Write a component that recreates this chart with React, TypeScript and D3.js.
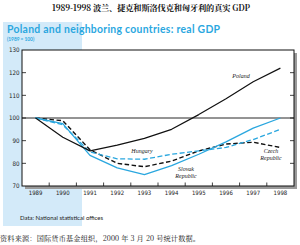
import React, { useEffect, useRef } from 'react';
import * as d3 from 'd3';

// Real GDP index, 1989 = 100
const years = ['1989', '1990', '1991', '1992', '1993', '1994', '1995', '1996', '1997', '1998'];
const poland = [100, 91.5, 85.5, 88, 91, 95, 101.5, 108.5, 116, 122];
const hungary = [100, 97, 85, 82, 81.8, 84, 85.5, 87, 90.5, 95];
const czech = [100, 98.8, 86, 80, 78.5, 81, 85.5, 88.5, 89.3, 87];
const slovak = [100, 97.5, 83.5, 78, 75, 79, 84, 89.5, 95.5, 100];
const yTicks = [70, 80, 90, 100, 110, 120, 130];

const titleCn = '1989-1998 波兰、捷克和斯洛伐克和匈牙利的真实 GDP';
const sourceCn = '资料来源：国际货币基金组织，2000 年 3 月 20 号统计数据。';

const BLUE = '#2aa7df';

export default function App() {
  const ref = useRef<SVGSVGElement>(null);

  useEffect(() => {
    if (!ref.current) return;
    const svg = d3.select(ref.current);
    svg.selectAll('*').remove();

    const left = 22, right = 294, top = 50, bottom = 186;

    // left-hand tinted panel behind the header and axis labels
    svg.append('rect')
      .attr('x', 3).attr('y', 22).attr('width', 79).attr('height', 204)
      .attr('fill', '#d3eaf9');

    svg.append('text')
      .attr('x', 151).attr('y', 11)
      .attr('text-anchor', 'middle')
      .attr('textLength', 198)
      .style('font-family', '"Noto Serif CJK SC", "Noto Sans CJK SC", serif')
      .style('font-size', '8.2px')
      .style('font-weight', 'bold')
      .attr('fill', '#111')
      .text(titleCn);

    svg.append('text')
      .attr('x', 7).attr('y', 33)
      .attr('textLength', 213)
      .style('font-family', 'Lato, "Open Sans", sans-serif')
      .style('font-size', '10.4px')
      .style('font-weight', 'bold')
      .attr('fill', BLUE)
      .text('Poland and neighboring countries: real GDP');

    svg.append('text')
      .attr('x', 7).attr('y', 40.5)
      .style('font-family', 'Lato, sans-serif')
      .style('font-size', '4.8px')
      .style('font-weight', 'bold')
      .attr('fill', BLUE)
      .text('(1989 = 100)');

    const x = d3.scaleBand().domain(years).range([left, right]);
    const y = d3.scaleLinear().domain([70, 130]).range([bottom, top]);
    const cx = (d: string) => (x(d) as number) + x.bandwidth() / 2;

    // drop shadow and plot frame
    svg.append('rect')
      .attr('x', left + 3).attr('y', top + 3)
      .attr('width', right - left).attr('height', bottom - top)
      .attr('fill', '#9a9a9a');
    svg.append('rect')
      .attr('x', left).attr('y', top)
      .attr('width', right - left).attr('height', bottom - top)
      .attr('fill', '#fff').attr('stroke', '#111').attr('stroke-width', 1);

    // 100 baseline
    svg.append('line')
      .attr('x1', left).attr('x2', right)
      .attr('y1', y(100)).attr('y2', y(100))
      .attr('stroke', '#111').attr('stroke-width', 0.9);

    const tickFont = 'Liberation Sans Narrow, "DejaVu Sans Condensed", sans-serif';

    // y ticks on both sides, pointing inward
    yTicks.forEach(t => {
      if (t !== 70 && t !== 130) {
        svg.append('line').attr('x1', left).attr('x2', left + 4)
          .attr('y1', y(t)).attr('y2', y(t)).attr('stroke', '#111').attr('stroke-width', 0.8);
        svg.append('line').attr('x1', right - 4).attr('x2', right)
          .attr('y1', y(t)).attr('y2', y(t)).attr('stroke', '#111').attr('stroke-width', 0.8);
      }
      svg.append('text')
        .attr('x', 19.5).attr('y', y(t) + 2.2)
        .attr('text-anchor', 'end')
        .style('font-family', tickFont)
        .style('font-size', '6.2px')
        .attr('fill', '#222')
        .text(t);
    });

    // x ticks sit on the year boundaries, labels centred in each band
    years.slice(1).forEach(yr => {
      const xx = x(yr) as number;
      svg.append('line').attr('x1', xx).attr('x2', xx)
        .attr('y1', bottom).attr('y2', bottom - 3.5)
        .attr('stroke', '#111').attr('stroke-width', 0.8);
    });
    years.forEach(yr => {
      svg.append('text')
        .attr('x', cx(yr)).attr('y', 195)
        .attr('text-anchor', 'middle')
        .style('font-family', tickFont)
        .style('font-size', '6px')
        .attr('fill', '#222')
        .text(yr);
    });

    const line = d3.line<number>()
      .x((_, i) => cx(years[i]))
      .y(d => y(d));

    const series = [
      { data: czech, color: '#111', dash: '4.5,2.5', w: 1.4 },
      { data: hungary, color: BLUE, dash: '5,2.5', w: 1.3 },
      { data: slovak, color: BLUE, dash: null, w: 1.3 },
      { data: poland, color: '#111', dash: null, w: 1.2 },
    ];
    series.forEach(s => {
      svg.append('path')
        .datum(s.data)
        .attr('d', line)
        .attr('fill', 'none')
        .attr('stroke', s.color)
        .attr('stroke-width', s.w)
        .attr('stroke-dasharray', s.dash ?? null)
        .attr('stroke-linejoin', 'round');
    });

    const labels = [
      { text: ['Poland'], x: 241, y: 78 },
      { text: ['Hungary'], x: 142, y: 153 },
      { text: ['Slovak', 'Republic'], x: 186, y: 171 },
      { text: ['Czech', 'Republic'], x: 271, y: 153 },
    ];
    labels.forEach(l => {
      l.text.forEach((t, i) => {
        svg.append('text')
          .attr('x', l.x).attr('y', l.y + i * 7)
          .attr('text-anchor', 'middle')
          .style('font-family', '"Liberation Serif", serif')
          .style('font-style', 'italic')
          .style('font-size', '6px')
          .attr('fill', '#222')
          .text(t);
      });
    });

    svg.append('text')
      .attr('x', 20).attr('y', 220)
      .style('font-family', 'Lato, sans-serif')
      .style('font-size', '6px')
      .attr('fill', '#222')
      .text('Data:  National statistical offices');

    svg.append('text')
      .attr('x', 0).attr('y', 241)
      .attr('textLength', 200)
      .style('font-family', '"Noto Serif CJK SC", "Noto Sans CJK SC", serif')
      .style('font-size', '7.2px')
      .attr('fill', '#111')
      .text(sourceCn);
  }, []);

  return (
    <div style={{ position: 'absolute', left: 0, top: 0, background: '#fff' }}>
      <svg ref={ref} width={300} height={245} style={{ display: 'block' }} />
    </div>
  );
}
